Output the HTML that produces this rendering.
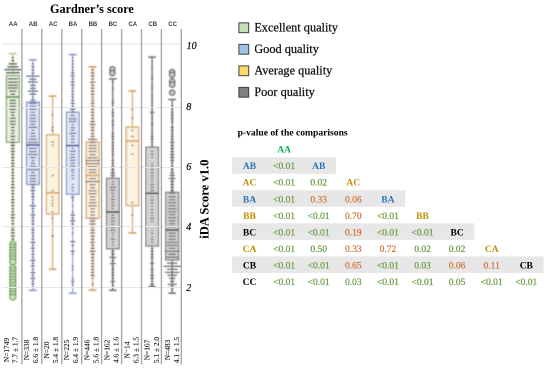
<!DOCTYPE html><html><head><meta charset="utf-8"><style>
html,body{margin:0;padding:0;background:#fff;}
body{width:550px;height:368px;overflow:hidden;position:relative;}
svg{position:absolute;left:0;top:0;transform:scale(0.5);transform-origin:0 0;will-change:transform;}
.serif{font-family:"Liberation Serif",serif;}
.sans{font-family:"Liberation Sans",sans-serif;}
.th{stroke-width:0.25px;}
</style></head><body>
<svg width="1100" height="736" viewBox="0 0 550 368">
<defs><filter id="bl" x="-5%" y="-5%" width="110%" height="110%"><feGaussianBlur stdDeviation="0.4"/></filter></defs>
<rect x="0" y="0" width="550" height="368" fill="#fff"/>
<g filter="url(#bl)">
<line x1="12.8" y1="53.7" x2="12.8" y2="241.0" stroke="#b5d19f" stroke-width="1.3"/>
<line x1="8.9" y1="53.7" x2="16.7" y2="53.7" stroke="#b5d19f" stroke-width="1.6"/>
<rect x="6.4" y="75.6" width="12.8" height="66.6" fill="#e6f0de" stroke="#8fb079" stroke-width="1.4"/>
<rect x="11.70" y="57.05" width="2.2" height="1.3" fill="#50574c"/>
<rect x="11.20" y="59.95" width="3.2" height="1.3" fill="#50574c"/>
<rect x="8.70" y="63.25" width="8.2" height="1.3" fill="#50574c"/>
<rect x="7.30" y="66.25" width="11.0" height="1.3" fill="#50574c"/>
<rect x="4.45" y="69.05" width="16.7" height="1.3" fill="#50574c"/>
<rect x="5.90" y="72.15" width="13.8" height="1.3" fill="#50574c"/>
<rect x="7.90" y="78.25" width="9.8" height="1.3" fill="#50574c"/>
<rect x="7.90" y="81.55" width="9.8" height="1.3" fill="#50574c"/>
<rect x="7.90" y="84.55" width="9.8" height="1.3" fill="#50574c"/>
<rect x="7.90" y="87.35" width="9.8" height="1.3" fill="#50574c"/>
<rect x="9.30" y="90.45" width="7.0" height="1.3" fill="#50574c"/>
<rect x="10.60" y="93.55" width="4.4" height="1.3" fill="#50574c"/>
<rect x="9.80" y="99.75" width="6.0" height="1.3" fill="#50574c"/>
<rect x="9.70" y="102.75" width="6.2" height="1.3" fill="#50574c"/>
<rect x="9.70" y="105.75" width="6.2" height="1.3" fill="#50574c"/>
<rect x="9.70" y="108.75" width="6.2" height="1.3" fill="#50574c"/>
<rect x="10.60" y="111.75" width="4.4" height="1.3" fill="#50574c"/>
<rect x="11.00" y="114.65" width="3.6" height="1.3" fill="#50574c"/>
<rect x="9.80" y="117.65" width="6.0" height="1.3" fill="#50574c"/>
<rect x="9.80" y="120.75" width="6.0" height="1.3" fill="#50574c"/>
<rect x="10.15" y="123.65" width="5.3" height="1.3" fill="#50574c"/>
<rect x="11.00" y="126.65" width="3.6" height="1.3" fill="#50574c"/>
<rect x="11.00" y="129.85" width="3.6" height="1.3" fill="#50574c"/>
<rect x="11.40" y="132.75" width="2.8" height="1.3" fill="#50574c"/>
<rect x="10.20" y="135.75" width="5.2" height="1.3" fill="#50574c"/>
<rect x="11.00" y="138.85" width="3.6" height="1.3" fill="#50574c"/>
<rect x="10.60" y="141.85" width="4.4" height="1.3" fill="#50574c"/>
<rect x="10.60" y="144.75" width="4.4" height="1.3" fill="#50574c"/>
<rect x="11.00" y="147.85" width="3.6" height="1.3" fill="#50574c"/>
<rect x="10.60" y="150.85" width="4.4" height="1.3" fill="#50574c"/>
<rect x="11.00" y="153.75" width="3.6" height="1.3" fill="#50574c"/>
<rect x="11.00" y="156.75" width="3.6" height="1.3" fill="#50574c"/>
<rect x="11.30" y="159.77" width="3.0" height="1.3" fill="#50574c"/>
<rect x="11.00" y="162.79" width="3.6" height="1.3" fill="#50574c"/>
<rect x="11.00" y="165.81" width="3.6" height="1.3" fill="#50574c"/>
<rect x="11.30" y="168.83" width="3.0" height="1.3" fill="#50574c"/>
<rect x="11.30" y="171.85" width="3.0" height="1.3" fill="#50574c"/>
<rect x="11.30" y="174.87" width="3.0" height="1.3" fill="#50574c"/>
<rect x="11.30" y="177.89" width="3.0" height="1.3" fill="#50574c"/>
<rect x="11.30" y="180.91" width="3.0" height="1.3" fill="#50574c"/>
<rect x="11.00" y="183.93" width="3.6" height="1.3" fill="#50574c"/>
<rect x="10.80" y="186.95" width="4.0" height="1.3" fill="#50574c"/>
<rect x="11.30" y="189.97" width="3.0" height="1.3" fill="#50574c"/>
<rect x="11.30" y="192.99" width="3.0" height="1.3" fill="#50574c"/>
<rect x="11.50" y="196.01" width="2.6" height="1.3" fill="#50574c"/>
<rect x="11.00" y="199.03" width="3.6" height="1.3" fill="#50574c"/>
<rect x="11.10" y="202.05" width="3.4" height="1.3" fill="#50574c"/>
<rect x="11.30" y="205.07" width="3.0" height="1.3" fill="#50574c"/>
<rect x="11.50" y="208.09" width="2.6" height="1.3" fill="#50574c"/>
<rect x="11.30" y="211.11" width="3.0" height="1.3" fill="#50574c"/>
<rect x="10.80" y="214.13" width="4.0" height="1.3" fill="#50574c"/>
<rect x="10.80" y="217.15" width="4.0" height="1.3" fill="#50574c"/>
<rect x="11.50" y="220.17" width="2.6" height="1.3" fill="#50574c"/>
<rect x="11.30" y="223.19" width="3.0" height="1.3" fill="#50574c"/>
<rect x="11.00" y="226.21" width="3.6" height="1.3" fill="#50574c"/>
<rect x="11.00" y="229.23" width="3.6" height="1.3" fill="#50574c"/>
<rect x="10.80" y="232.25" width="4.0" height="1.3" fill="#50574c"/>
<rect x="10.80" y="235.27" width="4.0" height="1.3" fill="#50574c"/>
<rect x="11.30" y="238.29" width="3.0" height="1.3" fill="#50574c"/>
<line x1="6.4" y1="97.0" x2="19.2" y2="97.0" stroke="#5d8c45" stroke-width="1.6"/>
<circle cx="12.8" cy="244.0" r="3.1" fill="#c6dfb3" stroke="#5f8c48" stroke-width="0.9"/>
<circle cx="12.8" cy="246.9" r="3.1" fill="#c6dfb3" stroke="#5f8c48" stroke-width="0.9"/>
<circle cx="12.8" cy="249.9" r="3.1" fill="#c6dfb3" stroke="#5f8c48" stroke-width="0.9"/>
<circle cx="12.8" cy="252.8" r="3.1" fill="#c6dfb3" stroke="#5f8c48" stroke-width="0.9"/>
<circle cx="12.8" cy="255.8" r="3.1" fill="#c6dfb3" stroke="#5f8c48" stroke-width="0.9"/>
<circle cx="12.8" cy="258.7" r="3.1" fill="#c6dfb3" stroke="#5f8c48" stroke-width="0.9"/>
<circle cx="12.8" cy="261.7" r="3.1" fill="#c6dfb3" stroke="#5f8c48" stroke-width="0.9"/>
<circle cx="12.8" cy="267.6" r="3.1" fill="#c6dfb3" stroke="#5f8c48" stroke-width="0.9"/>
<circle cx="12.8" cy="270.5" r="3.1" fill="#c6dfb3" stroke="#5f8c48" stroke-width="0.9"/>
<circle cx="12.8" cy="273.5" r="3.1" fill="#c6dfb3" stroke="#5f8c48" stroke-width="0.9"/>
<circle cx="12.8" cy="276.4" r="3.1" fill="#c6dfb3" stroke="#5f8c48" stroke-width="0.9"/>
<circle cx="12.8" cy="279.4" r="3.1" fill="#c6dfb3" stroke="#5f8c48" stroke-width="0.9"/>
<circle cx="12.8" cy="282.3" r="3.1" fill="#c6dfb3" stroke="#5f8c48" stroke-width="0.9"/>
<circle cx="12.8" cy="285.3" r="3.1" fill="#c6dfb3" stroke="#5f8c48" stroke-width="0.9"/>
<circle cx="12.8" cy="288.2" r="3.1" fill="#c6dfb3" stroke="#5f8c48" stroke-width="0.9"/>
<circle cx="12.8" cy="291.2" r="3.1" fill="#c6dfb3" stroke="#5f8c48" stroke-width="0.9"/>
<circle cx="12.8" cy="294.1" r="3.1" fill="#c6dfb3" stroke="#5f8c48" stroke-width="0.9"/>
<circle cx="12.8" cy="297.1" r="3.1" fill="#c6dfb3" stroke="#5f8c48" stroke-width="0.9"/>
</g>
<g filter="url(#bl)">
<line x1="32.9" y1="59.9" x2="32.9" y2="290.3" stroke="#8d9bcb" stroke-width="1.1"/>
<line x1="29.0" y1="59.9" x2="36.8" y2="59.9" stroke="#8d9bcb" stroke-width="1.6"/>
<line x1="29.0" y1="290.3" x2="36.8" y2="290.3" stroke="#8d9bcb" stroke-width="1.6"/>
<rect x="26.5" y="102.1" width="12.8" height="82.3" fill="#e0e6f4" stroke="#8f9dd0" stroke-width="1.4"/>
<rect x="31.90" y="63.05" width="2.0" height="1.3" fill="#6e7593"/>
<rect x="31.30" y="66.15" width="3.2" height="1.3" fill="#6e7593"/>
<rect x="31.30" y="69.45" width="3.2" height="1.3" fill="#6e7593"/>
<rect x="31.30" y="72.45" width="3.2" height="1.3" fill="#6e7593"/>
<rect x="26.20" y="75.45" width="13.4" height="1.3" fill="#6e7593"/>
<rect x="29.40" y="78.55" width="7.0" height="1.3" fill="#6e7593"/>
<rect x="28.00" y="81.35" width="9.8" height="1.3" fill="#6e7593"/>
<rect x="30.00" y="84.65" width="5.8" height="1.3" fill="#6e7593"/>
<rect x="29.90" y="87.65" width="6.0" height="1.3" fill="#6e7593"/>
<rect x="27.80" y="90.45" width="10.2" height="1.3" fill="#6e7593"/>
<rect x="29.50" y="93.45" width="6.8" height="1.3" fill="#6e7593"/>
<rect x="31.90" y="96.55" width="2.0" height="1.3" fill="#6e7593"/>
<rect x="30.40" y="99.45" width="5.0" height="1.3" fill="#6e7593"/>
<rect x="29.00" y="102.65" width="7.8" height="1.3" fill="#6e7593"/>
<rect x="29.90" y="105.75" width="6.0" height="1.3" fill="#6e7593"/>
<rect x="29.40" y="108.65" width="7.0" height="1.3" fill="#6e7593"/>
<rect x="30.90" y="111.75" width="4.0" height="1.3" fill="#6e7593"/>
<rect x="30.00" y="114.75" width="5.8" height="1.3" fill="#6e7593"/>
<rect x="29.60" y="117.75" width="6.6" height="1.3" fill="#6e7593"/>
<rect x="29.60" y="120.75" width="6.6" height="1.3" fill="#6e7593"/>
<rect x="30.40" y="123.75" width="5.0" height="1.3" fill="#6e7593"/>
<rect x="28.80" y="126.65" width="8.2" height="1.3" fill="#6e7593"/>
<rect x="31.40" y="129.65" width="3.0" height="1.3" fill="#6e7593"/>
<rect x="30.40" y="132.75" width="5.0" height="1.3" fill="#6e7593"/>
<rect x="30.00" y="135.65" width="5.8" height="1.3" fill="#6e7593"/>
<rect x="29.00" y="138.65" width="7.8" height="1.3" fill="#6e7593"/>
<rect x="28.00" y="141.75" width="9.8" height="1.3" fill="#6e7593"/>
<rect x="29.00" y="147.75" width="7.8" height="1.3" fill="#6e7593"/>
<rect x="29.40" y="150.95" width="7.0" height="1.3" fill="#6e7593"/>
<rect x="28.60" y="153.85" width="8.6" height="1.3" fill="#6e7593"/>
<rect x="30.00" y="156.95" width="5.8" height="1.3" fill="#6e7593"/>
<rect x="31.40" y="159.95" width="3.0" height="1.3" fill="#6e7593"/>
<rect x="30.70" y="162.75" width="4.4" height="1.3" fill="#6e7593"/>
<rect x="29.60" y="165.85" width="6.6" height="1.3" fill="#6e7593"/>
<rect x="27.80" y="169.05" width="10.2" height="1.3" fill="#6e7593"/>
<rect x="30.90" y="171.85" width="4.0" height="1.3" fill="#6e7593"/>
<rect x="29.60" y="174.95" width="6.6" height="1.3" fill="#6e7593"/>
<rect x="29.90" y="177.95" width="6.0" height="1.3" fill="#6e7593"/>
<rect x="29.90" y="180.85" width="6.0" height="1.3" fill="#6e7593"/>
<rect x="30.70" y="184.25" width="4.4" height="1.3" fill="#6e7593"/>
<rect x="30.90" y="186.95" width="4.0" height="1.3" fill="#6e7593"/>
<rect x="30.40" y="189.95" width="5.0" height="1.3" fill="#6e7593"/>
<rect x="31.15" y="193.15" width="3.5" height="1.3" fill="#6e7593"/>
<rect x="31.15" y="196.05" width="3.5" height="1.3" fill="#6e7593"/>
<rect x="31.65" y="198.95" width="2.5" height="1.3" fill="#6e7593"/>
<rect x="31.65" y="202.15" width="2.5" height="1.3" fill="#6e7593"/>
<rect x="29.65" y="205.15" width="6.5" height="1.3" fill="#6e7593"/>
<rect x="31.40" y="207.95" width="3.0" height="1.3" fill="#6e7593"/>
<rect x="31.65" y="211.15" width="2.5" height="1.3" fill="#6e7593"/>
<rect x="30.40" y="214.25" width="5.0" height="1.3" fill="#6e7593"/>
<rect x="31.40" y="217.15" width="3.0" height="1.3" fill="#6e7593"/>
<rect x="31.15" y="220.35" width="3.5" height="1.3" fill="#6e7593"/>
<rect x="31.40" y="223.35" width="3.0" height="1.3" fill="#6e7593"/>
<rect x="31.65" y="226.35" width="2.5" height="1.3" fill="#6e7593"/>
<rect x="31.15" y="229.35" width="3.5" height="1.3" fill="#6e7593"/>
<rect x="31.40" y="232.35" width="3.0" height="1.3" fill="#6e7593"/>
<rect x="31.65" y="235.35" width="2.5" height="1.3" fill="#6e7593"/>
<rect x="31.40" y="238.35" width="3.0" height="1.3" fill="#6e7593"/>
<rect x="30.40" y="241.75" width="5.0" height="1.3" fill="#6e7593"/>
<rect x="31.65" y="244.65" width="2.5" height="1.3" fill="#6e7593"/>
<rect x="30.90" y="247.55" width="4.0" height="1.3" fill="#6e7593"/>
<rect x="31.65" y="250.55" width="2.5" height="1.3" fill="#6e7593"/>
<rect x="31.40" y="253.55" width="3.0" height="1.3" fill="#6e7593"/>
<rect x="31.65" y="256.65" width="2.5" height="1.3" fill="#6e7593"/>
<rect x="30.40" y="259.75" width="5.0" height="1.3" fill="#6e7593"/>
<rect x="31.65" y="262.65" width="2.5" height="1.3" fill="#6e7593"/>
<rect x="30.90" y="265.45" width="4.0" height="1.3" fill="#6e7593"/>
<rect x="31.65" y="268.75" width="2.5" height="1.3" fill="#6e7593"/>
<rect x="30.40" y="272.05" width="5.0" height="1.3" fill="#6e7593"/>
<rect x="31.65" y="274.85" width="2.5" height="1.3" fill="#6e7593"/>
<rect x="30.40" y="277.75" width="5.0" height="1.3" fill="#6e7593"/>
<rect x="31.65" y="280.65" width="2.5" height="1.3" fill="#6e7593"/>
<rect x="31.40" y="283.35" width="3.0" height="1.3" fill="#6e7593"/>
<rect x="31.90" y="286.35" width="2.0" height="1.3" fill="#6e7593"/>
<line x1="26.5" y1="145.0" x2="39.3" y2="145.0" stroke="#3d5698" stroke-width="1.6"/>
</g>
<g filter="url(#bl)">
<line x1="52.6" y1="96.1" x2="52.6" y2="269.2" stroke="#e0b27a" stroke-width="1.4"/>
<line x1="48.7" y1="96.1" x2="56.5" y2="96.1" stroke="#d9a063" stroke-width="1.6"/>
<line x1="48.7" y1="269.2" x2="56.5" y2="269.2" stroke="#d9a063" stroke-width="1.6"/>
<rect x="46.2" y="134.8" width="12.8" height="79.2" fill="#fcf2e0" stroke="#ddb07c" stroke-width="1.4"/>
<rect x="51.60" y="114.45" width="2.0" height="1.3" fill="#857a6e"/>
<rect x="51.60" y="126.75" width="2.0" height="1.3" fill="#857a6e"/>
<rect x="51.35" y="129.75" width="2.5" height="1.3" fill="#857a6e"/>
<rect x="51.35" y="141.35" width="2.5" height="1.3" fill="#857a6e"/>
<rect x="51.60" y="144.55" width="2.0" height="1.3" fill="#857a6e"/>
<rect x="51.60" y="174.85" width="2.0" height="1.3" fill="#857a6e"/>
<rect x="51.60" y="189.95" width="2.0" height="1.3" fill="#857a6e"/>
<rect x="51.60" y="196.35" width="2.0" height="1.3" fill="#857a6e"/>
<rect x="51.60" y="199.45" width="2.0" height="1.3" fill="#857a6e"/>
<rect x="51.60" y="202.45" width="2.0" height="1.3" fill="#857a6e"/>
<rect x="51.60" y="205.15" width="2.0" height="1.3" fill="#857a6e"/>
<rect x="51.60" y="211.25" width="2.0" height="1.3" fill="#857a6e"/>
<rect x="51.60" y="217.65" width="2.0" height="1.3" fill="#857a6e"/>
<rect x="51.35" y="235.25" width="2.5" height="1.3" fill="#857a6e"/>
<line x1="46.2" y1="192.9" x2="59.0" y2="192.9" stroke="#dc9d58" stroke-width="1.6"/>
</g>
<g filter="url(#bl)">
<line x1="72.7" y1="54.6" x2="72.7" y2="293.2" stroke="#8d9bcb" stroke-width="1.1"/>
<line x1="68.8" y1="54.6" x2="76.6" y2="54.6" stroke="#8d9bcb" stroke-width="1.6"/>
<line x1="68.8" y1="293.2" x2="76.6" y2="293.2" stroke="#8d9bcb" stroke-width="1.6"/>
<rect x="66.3" y="112.2" width="12.8" height="82.0" fill="#e0e6f4" stroke="#8f9dd0" stroke-width="1.4"/>
<rect x="71.95" y="57.35" width="1.5" height="1.3" fill="#6e7593"/>
<rect x="71.70" y="60.35" width="2.0" height="1.3" fill="#6e7593"/>
<rect x="71.70" y="63.35" width="2.0" height="1.3" fill="#6e7593"/>
<rect x="71.70" y="66.35" width="2.0" height="1.3" fill="#6e7593"/>
<rect x="71.45" y="69.35" width="2.5" height="1.3" fill="#6e7593"/>
<rect x="70.95" y="72.35" width="3.5" height="1.3" fill="#6e7593"/>
<rect x="70.70" y="75.35" width="4.0" height="1.3" fill="#6e7593"/>
<rect x="71.45" y="78.35" width="2.5" height="1.3" fill="#6e7593"/>
<rect x="70.70" y="81.35" width="4.0" height="1.3" fill="#6e7593"/>
<rect x="70.95" y="84.35" width="3.5" height="1.3" fill="#6e7593"/>
<rect x="71.45" y="87.35" width="2.5" height="1.3" fill="#6e7593"/>
<rect x="71.45" y="90.55" width="2.5" height="1.3" fill="#6e7593"/>
<rect x="71.20" y="93.55" width="3.0" height="1.3" fill="#6e7593"/>
<rect x="71.45" y="96.65" width="2.5" height="1.3" fill="#6e7593"/>
<rect x="71.20" y="99.65" width="3.0" height="1.3" fill="#6e7593"/>
<rect x="70.70" y="102.65" width="4.0" height="1.3" fill="#6e7593"/>
<rect x="71.45" y="105.65" width="2.5" height="1.3" fill="#6e7593"/>
<rect x="69.85" y="108.65" width="5.7" height="1.3" fill="#6e7593"/>
<rect x="70.70" y="111.65" width="4.0" height="1.3" fill="#6e7593"/>
<rect x="70.70" y="114.85" width="4.0" height="1.3" fill="#6e7593"/>
<rect x="68.95" y="118.05" width="7.5" height="1.3" fill="#6e7593"/>
<rect x="68.95" y="120.85" width="7.5" height="1.3" fill="#6e7593"/>
<rect x="71.70" y="123.95" width="2.0" height="1.3" fill="#6e7593"/>
<rect x="70.45" y="126.95" width="4.5" height="1.3" fill="#6e7593"/>
<rect x="70.95" y="129.55" width="3.5" height="1.3" fill="#6e7593"/>
<rect x="69.45" y="132.65" width="6.5" height="1.3" fill="#6e7593"/>
<rect x="70.95" y="135.55" width="3.5" height="1.3" fill="#6e7593"/>
<rect x="70.70" y="138.65" width="4.0" height="1.3" fill="#6e7593"/>
<rect x="70.95" y="141.65" width="3.5" height="1.3" fill="#6e7593"/>
<rect x="71.70" y="147.65" width="2.0" height="1.3" fill="#6e7593"/>
<rect x="69.70" y="150.65" width="6.0" height="1.3" fill="#6e7593"/>
<rect x="70.70" y="153.75" width="4.0" height="1.3" fill="#6e7593"/>
<rect x="69.95" y="156.75" width="5.5" height="1.3" fill="#6e7593"/>
<rect x="69.95" y="159.75" width="5.5" height="1.3" fill="#6e7593"/>
<rect x="70.45" y="162.75" width="4.5" height="1.3" fill="#6e7593"/>
<rect x="69.95" y="165.75" width="5.5" height="1.3" fill="#6e7593"/>
<rect x="70.70" y="169.05" width="4.0" height="1.3" fill="#6e7593"/>
<rect x="71.45" y="171.65" width="2.5" height="1.3" fill="#6e7593"/>
<rect x="71.20" y="174.75" width="3.0" height="1.3" fill="#6e7593"/>
<rect x="71.45" y="177.75" width="2.5" height="1.3" fill="#6e7593"/>
<rect x="71.70" y="183.85" width="2.0" height="1.3" fill="#6e7593"/>
<rect x="71.20" y="186.95" width="3.0" height="1.3" fill="#6e7593"/>
<rect x="71.70" y="189.95" width="2.0" height="1.3" fill="#6e7593"/>
<rect x="70.95" y="196.55" width="3.5" height="1.3" fill="#6e7593"/>
<rect x="71.70" y="199.35" width="2.0" height="1.3" fill="#6e7593"/>
<rect x="71.95" y="205.35" width="1.5" height="1.3" fill="#6e7593"/>
<rect x="71.70" y="211.45" width="2.0" height="1.3" fill="#6e7593"/>
<rect x="70.45" y="214.35" width="4.5" height="1.3" fill="#6e7593"/>
<rect x="71.20" y="217.55" width="3.0" height="1.3" fill="#6e7593"/>
<rect x="70.20" y="220.35" width="5.0" height="1.3" fill="#6e7593"/>
<rect x="71.20" y="223.35" width="3.0" height="1.3" fill="#6e7593"/>
<rect x="71.70" y="226.55" width="2.0" height="1.3" fill="#6e7593"/>
<rect x="71.70" y="232.75" width="2.0" height="1.3" fill="#6e7593"/>
<rect x="70.20" y="240.95" width="5.0" height="1.3" fill="#6e7593"/>
<rect x="71.45" y="244.85" width="2.5" height="1.3" fill="#6e7593"/>
<rect x="70.70" y="250.55" width="4.0" height="1.3" fill="#6e7593"/>
<rect x="71.70" y="253.35" width="2.0" height="1.3" fill="#6e7593"/>
<rect x="71.70" y="265.85" width="2.0" height="1.3" fill="#6e7593"/>
<rect x="71.95" y="268.65" width="1.5" height="1.3" fill="#6e7593"/>
<rect x="71.70" y="277.85" width="2.0" height="1.3" fill="#6e7593"/>
<rect x="71.20" y="280.85" width="3.0" height="1.3" fill="#6e7593"/>
<rect x="71.70" y="283.85" width="2.0" height="1.3" fill="#6e7593"/>
<line x1="66.3" y1="145.6" x2="79.1" y2="145.6" stroke="#3d5698" stroke-width="1.6"/>
</g>
<g filter="url(#bl)">
<line x1="92.6" y1="66.8" x2="92.6" y2="290.2" stroke="#e0b27a" stroke-width="1.4"/>
<line x1="88.7" y1="66.8" x2="96.5" y2="66.8" stroke="#d9a063" stroke-width="1.6"/>
<line x1="88.7" y1="290.2" x2="96.5" y2="290.2" stroke="#d9a063" stroke-width="1.6"/>
<rect x="86.2" y="142.2" width="12.8" height="76.0" fill="#fcf2e0" stroke="#ddb07c" stroke-width="1.4"/>
<rect x="91.10" y="69.35" width="3.0" height="1.3" fill="#857a6e"/>
<rect x="90.60" y="72.35" width="4.0" height="1.3" fill="#857a6e"/>
<rect x="90.60" y="75.35" width="4.0" height="1.3" fill="#857a6e"/>
<rect x="91.10" y="78.35" width="3.0" height="1.3" fill="#857a6e"/>
<rect x="89.85" y="81.55" width="5.5" height="1.3" fill="#857a6e"/>
<rect x="90.85" y="84.55" width="3.5" height="1.3" fill="#857a6e"/>
<rect x="90.60" y="87.55" width="4.0" height="1.3" fill="#857a6e"/>
<rect x="90.60" y="90.55" width="4.0" height="1.3" fill="#857a6e"/>
<rect x="90.60" y="93.65" width="4.0" height="1.3" fill="#857a6e"/>
<rect x="91.35" y="96.65" width="2.5" height="1.3" fill="#857a6e"/>
<rect x="91.10" y="99.65" width="3.0" height="1.3" fill="#857a6e"/>
<rect x="90.60" y="102.65" width="4.0" height="1.3" fill="#857a6e"/>
<rect x="91.10" y="105.75" width="3.0" height="1.3" fill="#857a6e"/>
<rect x="90.85" y="108.75" width="3.5" height="1.3" fill="#857a6e"/>
<rect x="90.60" y="111.85" width="4.0" height="1.3" fill="#857a6e"/>
<rect x="90.85" y="114.85" width="3.5" height="1.3" fill="#857a6e"/>
<rect x="90.85" y="117.85" width="3.5" height="1.3" fill="#857a6e"/>
<rect x="90.10" y="120.85" width="5.0" height="1.3" fill="#857a6e"/>
<rect x="89.60" y="123.85" width="6.0" height="1.3" fill="#857a6e"/>
<rect x="90.60" y="126.85" width="4.0" height="1.3" fill="#857a6e"/>
<rect x="90.60" y="129.75" width="4.0" height="1.3" fill="#857a6e"/>
<rect x="91.10" y="132.85" width="3.0" height="1.3" fill="#857a6e"/>
<rect x="90.60" y="135.75" width="4.0" height="1.3" fill="#857a6e"/>
<rect x="88.10" y="138.75" width="9.0" height="1.3" fill="#857a6e"/>
<rect x="89.10" y="141.75" width="7.0" height="1.3" fill="#857a6e"/>
<rect x="88.60" y="144.85" width="8.0" height="1.3" fill="#857a6e"/>
<rect x="88.60" y="147.85" width="8.0" height="1.3" fill="#857a6e"/>
<rect x="88.60" y="150.85" width="8.0" height="1.3" fill="#857a6e"/>
<rect x="89.60" y="154.05" width="6.0" height="1.3" fill="#857a6e"/>
<rect x="87.60" y="157.15" width="10.0" height="1.3" fill="#857a6e"/>
<rect x="85.50" y="159.95" width="14.2" height="1.3" fill="#857a6e"/>
<rect x="86.10" y="162.95" width="13.0" height="1.3" fill="#857a6e"/>
<rect x="88.10" y="166.05" width="9.0" height="1.3" fill="#857a6e"/>
<rect x="88.60" y="169.05" width="8.0" height="1.3" fill="#857a6e"/>
<rect x="88.60" y="171.85" width="8.0" height="1.3" fill="#857a6e"/>
<rect x="89.10" y="177.95" width="7.0" height="1.3" fill="#857a6e"/>
<rect x="85.50" y="180.95" width="14.2" height="1.3" fill="#857a6e"/>
<rect x="89.60" y="184.15" width="6.0" height="1.3" fill="#857a6e"/>
<rect x="90.10" y="187.15" width="5.0" height="1.3" fill="#857a6e"/>
<rect x="88.60" y="190.15" width="8.0" height="1.3" fill="#857a6e"/>
<rect x="88.60" y="193.15" width="8.0" height="1.3" fill="#857a6e"/>
<rect x="89.85" y="196.15" width="5.5" height="1.3" fill="#857a6e"/>
<rect x="89.60" y="199.15" width="6.0" height="1.3" fill="#857a6e"/>
<rect x="88.85" y="202.05" width="7.5" height="1.3" fill="#857a6e"/>
<rect x="88.35" y="205.15" width="8.5" height="1.3" fill="#857a6e"/>
<rect x="90.35" y="208.15" width="4.5" height="1.3" fill="#857a6e"/>
<rect x="90.35" y="211.15" width="4.5" height="1.3" fill="#857a6e"/>
<rect x="90.35" y="214.35" width="4.5" height="1.3" fill="#857a6e"/>
<rect x="88.85" y="217.45" width="7.5" height="1.3" fill="#857a6e"/>
<rect x="89.60" y="220.35" width="6.0" height="1.3" fill="#857a6e"/>
<rect x="89.35" y="223.35" width="6.5" height="1.3" fill="#857a6e"/>
<rect x="90.60" y="226.35" width="4.0" height="1.3" fill="#857a6e"/>
<rect x="90.10" y="229.35" width="5.0" height="1.3" fill="#857a6e"/>
<rect x="90.10" y="232.35" width="5.0" height="1.3" fill="#857a6e"/>
<rect x="90.35" y="235.55" width="4.5" height="1.3" fill="#857a6e"/>
<rect x="90.60" y="238.55" width="4.0" height="1.3" fill="#857a6e"/>
<rect x="90.10" y="241.65" width="5.0" height="1.3" fill="#857a6e"/>
<rect x="90.85" y="244.65" width="3.5" height="1.3" fill="#857a6e"/>
<rect x="90.35" y="247.65" width="4.5" height="1.3" fill="#857a6e"/>
<rect x="89.60" y="250.65" width="6.0" height="1.3" fill="#857a6e"/>
<rect x="90.60" y="253.55" width="4.0" height="1.3" fill="#857a6e"/>
<rect x="90.85" y="256.75" width="3.5" height="1.3" fill="#857a6e"/>
<rect x="90.85" y="259.75" width="3.5" height="1.3" fill="#857a6e"/>
<rect x="90.85" y="262.85" width="3.5" height="1.3" fill="#857a6e"/>
<rect x="90.85" y="265.75" width="3.5" height="1.3" fill="#857a6e"/>
<rect x="90.85" y="268.75" width="3.5" height="1.3" fill="#857a6e"/>
<rect x="90.85" y="271.75" width="3.5" height="1.3" fill="#857a6e"/>
<rect x="90.35" y="274.75" width="4.5" height="1.3" fill="#857a6e"/>
<rect x="91.60" y="277.55" width="2.0" height="1.3" fill="#857a6e"/>
<rect x="91.60" y="283.35" width="2.0" height="1.3" fill="#857a6e"/>
<line x1="86.2" y1="175.5" x2="99.0" y2="175.5" stroke="#dc9d58" stroke-width="1.6"/>
</g>
<g filter="url(#bl)">
<line x1="112.8" y1="78.9" x2="112.8" y2="290.3" stroke="#777777" stroke-width="1.4"/>
<line x1="108.9" y1="78.9" x2="116.7" y2="78.9" stroke="#777777" stroke-width="1.6"/>
<line x1="108.9" y1="290.3" x2="116.7" y2="290.3" stroke="#777777" stroke-width="1.6"/>
<rect x="106.4" y="178.3" width="12.8" height="70.5" fill="#d3d3d3" stroke="#8a8a8a" stroke-width="1.4"/>
<rect x="111.80" y="81.45" width="2.0" height="1.3" fill="#727272"/>
<rect x="111.80" y="87.45" width="2.0" height="1.3" fill="#727272"/>
<rect x="111.80" y="99.65" width="2.0" height="1.3" fill="#727272"/>
<rect x="111.55" y="102.65" width="2.5" height="1.3" fill="#727272"/>
<rect x="111.55" y="111.85" width="2.5" height="1.3" fill="#727272"/>
<rect x="111.55" y="114.85" width="2.5" height="1.3" fill="#727272"/>
<rect x="111.55" y="120.55" width="2.5" height="1.3" fill="#727272"/>
<rect x="111.55" y="123.95" width="2.5" height="1.3" fill="#727272"/>
<rect x="111.55" y="132.75" width="2.5" height="1.3" fill="#727272"/>
<rect x="111.30" y="135.85" width="3.0" height="1.3" fill="#727272"/>
<rect x="111.55" y="138.75" width="2.5" height="1.3" fill="#727272"/>
<rect x="111.55" y="142.05" width="2.5" height="1.3" fill="#727272"/>
<rect x="111.55" y="144.85" width="2.5" height="1.3" fill="#727272"/>
<rect x="111.55" y="147.85" width="2.5" height="1.3" fill="#727272"/>
<rect x="111.55" y="150.85" width="2.5" height="1.3" fill="#727272"/>
<rect x="111.55" y="154.05" width="2.5" height="1.3" fill="#727272"/>
<rect x="111.55" y="159.95" width="2.5" height="1.3" fill="#727272"/>
<rect x="111.55" y="162.95" width="2.5" height="1.3" fill="#727272"/>
<rect x="111.05" y="166.05" width="3.5" height="1.3" fill="#727272"/>
<rect x="111.05" y="169.05" width="3.5" height="1.3" fill="#727272"/>
<rect x="110.55" y="172.05" width="4.5" height="1.3" fill="#727272"/>
<rect x="110.30" y="174.95" width="5.0" height="1.3" fill="#727272"/>
<rect x="111.80" y="180.85" width="2.0" height="1.3" fill="#727272"/>
<rect x="111.55" y="183.55" width="2.5" height="1.3" fill="#727272"/>
<rect x="109.80" y="186.65" width="6.0" height="1.3" fill="#727272"/>
<rect x="110.30" y="189.55" width="5.0" height="1.3" fill="#727272"/>
<rect x="111.30" y="192.75" width="3.0" height="1.3" fill="#727272"/>
<rect x="111.55" y="195.75" width="2.5" height="1.3" fill="#727272"/>
<rect x="110.80" y="198.85" width="4.0" height="1.3" fill="#727272"/>
<rect x="111.30" y="201.65" width="3.0" height="1.3" fill="#727272"/>
<rect x="111.05" y="204.65" width="3.5" height="1.3" fill="#727272"/>
<rect x="111.80" y="207.65" width="2.0" height="1.3" fill="#727272"/>
<rect x="111.30" y="214.55" width="3.0" height="1.3" fill="#727272"/>
<rect x="110.80" y="217.55" width="4.0" height="1.3" fill="#727272"/>
<rect x="110.80" y="220.55" width="4.0" height="1.3" fill="#727272"/>
<rect x="111.05" y="223.45" width="3.5" height="1.3" fill="#727272"/>
<rect x="110.80" y="226.55" width="4.0" height="1.3" fill="#727272"/>
<rect x="110.30" y="229.55" width="5.0" height="1.3" fill="#727272"/>
<rect x="111.80" y="232.55" width="2.0" height="1.3" fill="#727272"/>
<rect x="112.05" y="235.55" width="1.5" height="1.3" fill="#727272"/>
<rect x="110.80" y="238.55" width="4.0" height="1.3" fill="#727272"/>
<rect x="111.80" y="241.45" width="2.0" height="1.3" fill="#727272"/>
<rect x="111.80" y="244.65" width="2.0" height="1.3" fill="#727272"/>
<rect x="111.30" y="250.65" width="3.0" height="1.3" fill="#727272"/>
<rect x="111.05" y="253.55" width="3.5" height="1.3" fill="#727272"/>
<rect x="109.40" y="256.75" width="6.8" height="1.3" fill="#727272"/>
<rect x="111.30" y="259.75" width="3.0" height="1.3" fill="#727272"/>
<rect x="109.80" y="262.85" width="6.0" height="1.3" fill="#727272"/>
<rect x="111.55" y="265.75" width="2.5" height="1.3" fill="#727272"/>
<rect x="111.30" y="268.75" width="3.0" height="1.3" fill="#727272"/>
<rect x="111.30" y="271.75" width="3.0" height="1.3" fill="#727272"/>
<rect x="111.30" y="274.75" width="3.0" height="1.3" fill="#727272"/>
<rect x="111.55" y="277.75" width="2.5" height="1.3" fill="#727272"/>
<rect x="110.55" y="280.85" width="4.5" height="1.3" fill="#727272"/>
<rect x="111.80" y="283.85" width="2.0" height="1.3" fill="#727272"/>
<rect x="111.80" y="286.65" width="2.0" height="1.3" fill="#727272"/>
<line x1="106.4" y1="212.0" x2="119.2" y2="212.0" stroke="#444444" stroke-width="1.6"/>
<circle cx="112.4" cy="69.3" r="2.75" fill="#c4c4c4" stroke="#555555" stroke-width="1.0"/>
<circle cx="112.4" cy="73.1" r="2.75" fill="#c4c4c4" stroke="#555555" stroke-width="1.0"/>
</g>
<g filter="url(#bl)">
<line x1="132.4" y1="90.9" x2="132.4" y2="232.9" stroke="#e0b27a" stroke-width="1.4"/>
<line x1="128.5" y1="90.9" x2="136.3" y2="90.9" stroke="#d9a063" stroke-width="1.6"/>
<line x1="128.5" y1="232.9" x2="136.3" y2="232.9" stroke="#d9a063" stroke-width="1.6"/>
<rect x="126.0" y="127.0" width="12.8" height="78.6" fill="#fcf2e0" stroke="#ddb07c" stroke-width="1.4"/>
<rect x="131.40" y="108.55" width="2.0" height="1.3" fill="#857a6e"/>
<rect x="131.40" y="117.65" width="2.0" height="1.3" fill="#857a6e"/>
<rect x="131.40" y="129.75" width="2.0" height="1.3" fill="#857a6e"/>
<rect x="131.15" y="135.85" width="2.5" height="1.3" fill="#857a6e"/>
<rect x="131.40" y="144.75" width="2.0" height="1.3" fill="#857a6e"/>
<rect x="131.40" y="153.55" width="2.0" height="1.3" fill="#857a6e"/>
<rect x="131.40" y="202.15" width="2.0" height="1.3" fill="#857a6e"/>
<rect x="131.40" y="214.45" width="2.0" height="1.3" fill="#857a6e"/>
<line x1="126.0" y1="141.0" x2="138.8" y2="141.0" stroke="#dc9d58" stroke-width="1.6"/>
</g>
<g filter="url(#bl)">
<line x1="152.1" y1="57.1" x2="152.1" y2="286.8" stroke="#777777" stroke-width="1.4"/>
<line x1="148.2" y1="57.1" x2="156.0" y2="57.1" stroke="#777777" stroke-width="1.6"/>
<line x1="148.2" y1="286.8" x2="156.0" y2="286.8" stroke="#777777" stroke-width="1.6"/>
<rect x="145.7" y="147.2" width="12.8" height="98.8" fill="#d3d3d3" stroke="#8a8a8a" stroke-width="1.4"/>
<rect x="151.10" y="66.35" width="2.0" height="1.3" fill="#727272"/>
<rect x="151.10" y="75.65" width="2.0" height="1.3" fill="#727272"/>
<rect x="151.10" y="78.55" width="2.0" height="1.3" fill="#727272"/>
<rect x="151.10" y="84.65" width="2.0" height="1.3" fill="#727272"/>
<rect x="151.10" y="87.55" width="2.0" height="1.3" fill="#727272"/>
<rect x="151.10" y="93.75" width="2.0" height="1.3" fill="#727272"/>
<rect x="151.10" y="96.65" width="2.0" height="1.3" fill="#727272"/>
<rect x="151.10" y="99.75" width="2.0" height="1.3" fill="#727272"/>
<rect x="151.10" y="102.75" width="2.0" height="1.3" fill="#727272"/>
<rect x="151.10" y="105.55" width="2.0" height="1.3" fill="#727272"/>
<rect x="151.10" y="108.75" width="2.0" height="1.3" fill="#727272"/>
<rect x="149.85" y="111.75" width="4.5" height="1.3" fill="#727272"/>
<rect x="151.10" y="114.75" width="2.0" height="1.3" fill="#727272"/>
<rect x="151.10" y="117.75" width="2.0" height="1.3" fill="#727272"/>
<rect x="151.10" y="120.75" width="2.0" height="1.3" fill="#727272"/>
<rect x="150.60" y="123.75" width="3.0" height="1.3" fill="#727272"/>
<rect x="151.10" y="129.75" width="2.0" height="1.3" fill="#727272"/>
<rect x="151.10" y="132.75" width="2.0" height="1.3" fill="#727272"/>
<rect x="150.60" y="135.75" width="3.0" height="1.3" fill="#727272"/>
<rect x="150.60" y="138.75" width="3.0" height="1.3" fill="#727272"/>
<rect x="151.10" y="141.75" width="2.0" height="1.3" fill="#727272"/>
<rect x="151.10" y="144.85" width="2.0" height="1.3" fill="#727272"/>
<rect x="151.10" y="150.75" width="2.0" height="1.3" fill="#727272"/>
<rect x="150.60" y="153.85" width="3.0" height="1.3" fill="#727272"/>
<rect x="151.35" y="156.95" width="1.5" height="1.3" fill="#727272"/>
<rect x="151.35" y="162.95" width="1.5" height="1.3" fill="#727272"/>
<rect x="150.60" y="165.95" width="3.0" height="1.3" fill="#727272"/>
<rect x="150.60" y="169.05" width="3.0" height="1.3" fill="#727272"/>
<rect x="150.60" y="171.95" width="3.0" height="1.3" fill="#727272"/>
<rect x="150.60" y="175.05" width="3.0" height="1.3" fill="#727272"/>
<rect x="150.60" y="178.05" width="3.0" height="1.3" fill="#727272"/>
<rect x="151.10" y="180.95" width="2.0" height="1.3" fill="#727272"/>
<rect x="150.10" y="184.05" width="4.0" height="1.3" fill="#727272"/>
<rect x="150.60" y="187.05" width="3.0" height="1.3" fill="#727272"/>
<rect x="150.35" y="189.95" width="3.5" height="1.3" fill="#727272"/>
<rect x="151.10" y="196.35" width="2.0" height="1.3" fill="#727272"/>
<rect x="150.35" y="199.55" width="3.5" height="1.3" fill="#727272"/>
<rect x="150.85" y="202.65" width="2.5" height="1.3" fill="#727272"/>
<rect x="151.35" y="205.55" width="1.5" height="1.3" fill="#727272"/>
<rect x="150.85" y="208.75" width="2.5" height="1.3" fill="#727272"/>
<rect x="150.60" y="211.85" width="3.0" height="1.3" fill="#727272"/>
<rect x="151.35" y="214.85" width="1.5" height="1.3" fill="#727272"/>
<rect x="150.10" y="217.65" width="4.0" height="1.3" fill="#727272"/>
<rect x="151.10" y="220.75" width="2.0" height="1.3" fill="#727272"/>
<rect x="151.35" y="229.95" width="1.5" height="1.3" fill="#727272"/>
<rect x="151.10" y="232.75" width="2.0" height="1.3" fill="#727272"/>
<rect x="151.35" y="235.95" width="1.5" height="1.3" fill="#727272"/>
<rect x="150.60" y="238.95" width="3.0" height="1.3" fill="#727272"/>
<rect x="151.10" y="241.85" width="2.0" height="1.3" fill="#727272"/>
<rect x="151.10" y="248.15" width="2.0" height="1.3" fill="#727272"/>
<rect x="150.60" y="250.65" width="3.0" height="1.3" fill="#727272"/>
<rect x="150.60" y="253.85" width="3.0" height="1.3" fill="#727272"/>
<rect x="150.60" y="256.75" width="3.0" height="1.3" fill="#727272"/>
<rect x="151.10" y="259.75" width="2.0" height="1.3" fill="#727272"/>
<rect x="150.10" y="262.75" width="4.0" height="1.3" fill="#727272"/>
<rect x="151.10" y="265.75" width="2.0" height="1.3" fill="#727272"/>
<rect x="150.35" y="268.75" width="3.5" height="1.3" fill="#727272"/>
<rect x="150.85" y="271.75" width="2.5" height="1.3" fill="#727272"/>
<rect x="150.10" y="274.85" width="4.0" height="1.3" fill="#727272"/>
<rect x="150.35" y="277.85" width="3.5" height="1.3" fill="#727272"/>
<rect x="151.10" y="280.95" width="2.0" height="1.3" fill="#727272"/>
<rect x="150.10" y="283.95" width="4.0" height="1.3" fill="#727272"/>
<line x1="145.7" y1="193.3" x2="158.5" y2="193.3" stroke="#444444" stroke-width="1.6"/>
</g>
<g filter="url(#bl)">
<line x1="172.2" y1="99.5" x2="172.2" y2="293.2" stroke="#777777" stroke-width="1.4"/>
<line x1="168.3" y1="99.5" x2="176.1" y2="99.5" stroke="#777777" stroke-width="1.6"/>
<line x1="168.3" y1="293.2" x2="176.1" y2="293.2" stroke="#777777" stroke-width="1.6"/>
<rect x="165.8" y="192.4" width="12.8" height="67.6" fill="#d3d3d3" stroke="#8a8a8a" stroke-width="1.4"/>
<rect x="171.20" y="105.05" width="2.0" height="1.3" fill="#727272"/>
<rect x="170.95" y="108.75" width="2.5" height="1.3" fill="#727272"/>
<rect x="170.70" y="111.75" width="3.0" height="1.3" fill="#727272"/>
<rect x="170.70" y="114.75" width="3.0" height="1.3" fill="#727272"/>
<rect x="170.70" y="117.85" width="3.0" height="1.3" fill="#727272"/>
<rect x="170.95" y="120.85" width="2.5" height="1.3" fill="#727272"/>
<rect x="170.70" y="126.75" width="3.0" height="1.3" fill="#727272"/>
<rect x="170.70" y="129.85" width="3.0" height="1.3" fill="#727272"/>
<rect x="170.95" y="132.85" width="2.5" height="1.3" fill="#727272"/>
<rect x="170.70" y="135.75" width="3.0" height="1.3" fill="#727272"/>
<rect x="170.70" y="138.85" width="3.0" height="1.3" fill="#727272"/>
<rect x="169.95" y="141.75" width="4.5" height="1.3" fill="#727272"/>
<rect x="170.45" y="144.85" width="3.5" height="1.3" fill="#727272"/>
<rect x="170.20" y="147.85" width="4.0" height="1.3" fill="#727272"/>
<rect x="170.20" y="150.85" width="4.0" height="1.3" fill="#727272"/>
<rect x="169.95" y="153.85" width="4.5" height="1.3" fill="#727272"/>
<rect x="169.95" y="156.85" width="4.5" height="1.3" fill="#727272"/>
<rect x="170.20" y="159.95" width="4.0" height="1.3" fill="#727272"/>
<rect x="171.20" y="162.95" width="2.0" height="1.3" fill="#727272"/>
<rect x="170.95" y="165.95" width="2.5" height="1.3" fill="#727272"/>
<rect x="170.70" y="168.95" width="3.0" height="1.3" fill="#727272"/>
<rect x="170.20" y="171.95" width="4.0" height="1.3" fill="#727272"/>
<rect x="169.45" y="174.75" width="5.5" height="1.3" fill="#727272"/>
<rect x="168.80" y="177.85" width="6.8" height="1.3" fill="#727272"/>
<rect x="170.20" y="180.85" width="4.0" height="1.3" fill="#727272"/>
<rect x="170.20" y="183.85" width="4.0" height="1.3" fill="#727272"/>
<rect x="170.45" y="186.95" width="3.5" height="1.3" fill="#727272"/>
<rect x="170.20" y="189.95" width="4.0" height="1.3" fill="#727272"/>
<rect x="169.20" y="192.65" width="6.0" height="1.3" fill="#727272"/>
<rect x="168.40" y="196.15" width="7.6" height="1.3" fill="#727272"/>
<rect x="168.95" y="199.15" width="6.5" height="1.3" fill="#727272"/>
<rect x="167.75" y="201.95" width="8.9" height="1.3" fill="#727272"/>
<rect x="168.45" y="205.05" width="7.5" height="1.3" fill="#727272"/>
<rect x="167.95" y="208.15" width="8.5" height="1.3" fill="#727272"/>
<rect x="167.95" y="211.15" width="8.5" height="1.3" fill="#727272"/>
<rect x="168.95" y="213.95" width="6.5" height="1.3" fill="#727272"/>
<rect x="167.95" y="217.05" width="8.5" height="1.3" fill="#727272"/>
<rect x="168.70" y="220.25" width="7.0" height="1.3" fill="#727272"/>
<rect x="168.95" y="223.05" width="6.5" height="1.3" fill="#727272"/>
<rect x="167.95" y="225.95" width="8.5" height="1.3" fill="#727272"/>
<rect x="168.45" y="232.55" width="7.5" height="1.3" fill="#727272"/>
<rect x="168.45" y="235.55" width="7.5" height="1.3" fill="#727272"/>
<rect x="168.70" y="238.75" width="7.0" height="1.3" fill="#727272"/>
<rect x="167.05" y="241.75" width="10.3" height="1.3" fill="#727272"/>
<rect x="167.20" y="244.65" width="10.0" height="1.3" fill="#727272"/>
<rect x="168.95" y="247.65" width="6.5" height="1.3" fill="#727272"/>
<rect x="164.90" y="250.65" width="14.6" height="1.3" fill="#727272"/>
<rect x="168.45" y="253.65" width="7.5" height="1.3" fill="#727272"/>
<rect x="165.95" y="256.65" width="12.5" height="1.3" fill="#727272"/>
<rect x="166.95" y="262.55" width="10.5" height="1.3" fill="#727272"/>
<rect x="163.50" y="265.65" width="17.4" height="1.3" fill="#727272"/>
<rect x="166.95" y="268.65" width="10.5" height="1.3" fill="#727272"/>
<rect x="165.10" y="271.75" width="14.2" height="1.3" fill="#727272"/>
<rect x="167.45" y="274.65" width="9.5" height="1.3" fill="#727272"/>
<rect x="168.95" y="277.65" width="6.5" height="1.3" fill="#727272"/>
<rect x="169.95" y="280.75" width="4.5" height="1.3" fill="#727272"/>
<rect x="167.70" y="283.75" width="9.0" height="1.3" fill="#727272"/>
<rect x="169.70" y="286.65" width="5.0" height="1.3" fill="#727272"/>
<rect x="171.20" y="289.75" width="2.0" height="1.3" fill="#727272"/>
<line x1="165.8" y1="230.0" x2="178.6" y2="230.0" stroke="#444444" stroke-width="1.6"/>
<circle cx="172.2" cy="72.0" r="2.75" fill="#c4c4c4" stroke="#555555" stroke-width="1.0"/>
<circle cx="172.2" cy="74.8" r="2.75" fill="#c4c4c4" stroke="#555555" stroke-width="1.0"/>
<circle cx="172.2" cy="81.5" r="2.75" fill="#c4c4c4" stroke="#555555" stroke-width="1.0"/>
<circle cx="172.2" cy="84.6" r="2.75" fill="#c4c4c4" stroke="#555555" stroke-width="1.0"/>
<circle cx="172.2" cy="92.6" r="2.75" fill="#c4c4c4" stroke="#555555" stroke-width="1.0"/>
</g>
<line x1="2" y1="44.1" x2="181" y2="44.1" stroke="#e6e6e6" stroke-width="1"/>
<line x1="2" y1="107.5" x2="181" y2="107.5" stroke="#e6e6e6" stroke-width="1"/>
<line x1="2" y1="167.5" x2="181" y2="167.5" stroke="#e6e6e6" stroke-width="1"/>
<line x1="2" y1="226.5" x2="181" y2="226.5" stroke="#e6e6e6" stroke-width="1"/>
<line x1="2" y1="287.5" x2="181" y2="287.5" stroke="#e6e6e6" stroke-width="1"/>
<line x1="21.9" y1="29" x2="21.9" y2="364.4" stroke="#a8a8a8" stroke-width="1.4"/>
<line x1="41.8" y1="29" x2="41.8" y2="364.4" stroke="#a8a8a8" stroke-width="1.4"/>
<line x1="61.8" y1="29" x2="61.8" y2="364.4" stroke="#a8a8a8" stroke-width="1.4"/>
<line x1="81.7" y1="29" x2="81.7" y2="364.4" stroke="#a8a8a8" stroke-width="1.4"/>
<line x1="101.6" y1="29" x2="101.6" y2="364.4" stroke="#a8a8a8" stroke-width="1.4"/>
<line x1="121.6" y1="29" x2="121.6" y2="364.4" stroke="#a8a8a8" stroke-width="1.4"/>
<line x1="141.5" y1="29" x2="141.5" y2="364.4" stroke="#a8a8a8" stroke-width="1.4"/>
<line x1="161.4" y1="29" x2="161.4" y2="364.4" stroke="#a8a8a8" stroke-width="1.4"/>
<line x1="181.3" y1="29" x2="181.3" y2="364.4" stroke="#a8a8a8" stroke-width="1.4"/>
<rect x="238.9" y="22.9" width="9.8" height="9.8" fill="#c5e0b4" stroke="#404040" stroke-width="1"/>
<rect x="238.9" y="44.4" width="9.8" height="9.8" fill="#9dc3e6" stroke="#404040" stroke-width="1"/>
<rect x="238.9" y="65.9" width="9.8" height="9.8" fill="#ffd966" stroke="#404040" stroke-width="1"/>
<rect x="238.9" y="87.4" width="9.8" height="9.8" fill="#7f7f7f" stroke="#404040" stroke-width="1"/>
<rect x="232.2" y="157.20" width="103.8" height="16.53" fill="#e7e7e7"/>
<rect x="232.2" y="190.26" width="173.0" height="16.53" fill="#e7e7e7"/>
<rect x="232.2" y="223.32" width="242.2" height="16.53" fill="#e7e7e7"/>
<rect x="232.2" y="256.38" width="311.4" height="16.53" fill="#e7e7e7"/>
<text x="13.2" y="26.1" font-size="6" font-weight="bold" text-anchor="middle" class="sans" fill="#3a3a3a">AA</text>
<text x="33.1" y="26.1" font-size="6" font-weight="bold" text-anchor="middle" class="sans" fill="#3a3a3a">AB</text>
<text x="53.1" y="26.1" font-size="6" font-weight="bold" text-anchor="middle" class="sans" fill="#3a3a3a">AC</text>
<text x="73.0" y="26.1" font-size="6" font-weight="bold" text-anchor="middle" class="sans" fill="#3a3a3a">BA</text>
<text x="92.9" y="26.1" font-size="6" font-weight="bold" text-anchor="middle" class="sans" fill="#3a3a3a">BB</text>
<text x="112.9" y="26.1" font-size="6" font-weight="bold" text-anchor="middle" class="sans" fill="#3a3a3a">BC</text>
<text x="132.8" y="26.1" font-size="6" font-weight="bold" text-anchor="middle" class="sans" fill="#3a3a3a">CA</text>
<text x="152.7" y="26.1" font-size="6" font-weight="bold" text-anchor="middle" class="sans" fill="#3a3a3a">CB</text>
<text x="172.6" y="26.1" font-size="6" font-weight="bold" text-anchor="middle" class="sans" fill="#3a3a3a">CC</text>
<text x="50" y="12.8" font-size="12.2" font-weight="bold" class="serif" fill="#000">Gardner’s score</text>
<text x="186.6" y="49.2" font-size="10" font-style="italic" class="serif th" fill="#111" stroke="#111">10</text>
<text x="186.2" y="109.9" font-size="10" font-style="italic" class="serif th" fill="#111" stroke="#111">8</text>
<text x="186.2" y="169.9" font-size="10" font-style="italic" class="serif th" fill="#111" stroke="#111">6</text>
<text x="186.2" y="230.0" font-size="10" font-style="italic" class="serif th" fill="#111" stroke="#111">4</text>
<text x="186.2" y="291.1" font-size="10" font-style="italic" class="serif th" fill="#111" stroke="#111">2</text>
<text transform="translate(208.7,238.8) rotate(-90)" font-size="12.6" font-weight="bold" class="serif" fill="#000">iDA Score v1.0</text>
<text transform="translate(8.8,350) rotate(-90)" font-size="7.4" text-anchor="middle" class="serif" fill="#1a1a1a" stroke="#1a1a1a" stroke-width="0.12">N=1749</text>
<text transform="translate(17.6,350) rotate(-90)" font-size="7.4" text-anchor="middle" class="serif" fill="#1a1a1a" stroke="#1a1a1a" stroke-width="0.12">7.7 ± 1.7</text>
<text transform="translate(28.9,350) rotate(-90)" font-size="7.4" text-anchor="middle" class="serif" fill="#1a1a1a" stroke="#1a1a1a" stroke-width="0.12">N=338</text>
<text transform="translate(37.8,350) rotate(-90)" font-size="7.4" text-anchor="middle" class="serif" fill="#1a1a1a" stroke="#1a1a1a" stroke-width="0.12">6.6 ± 1.8</text>
<text transform="translate(49.0,350) rotate(-90)" font-size="7.4" text-anchor="middle" class="serif" fill="#1a1a1a" stroke="#1a1a1a" stroke-width="0.12">N=20</text>
<text transform="translate(58.0,350) rotate(-90)" font-size="7.4" text-anchor="middle" class="serif" fill="#1a1a1a" stroke="#1a1a1a" stroke-width="0.12">5.4 ± 1.8</text>
<text transform="translate(69.2,350) rotate(-90)" font-size="7.4" text-anchor="middle" class="serif" fill="#1a1a1a" stroke="#1a1a1a" stroke-width="0.12">N=225</text>
<text transform="translate(78.2,350) rotate(-90)" font-size="7.4" text-anchor="middle" class="serif" fill="#1a1a1a" stroke="#1a1a1a" stroke-width="0.12">6.4 ± 1.9</text>
<text transform="translate(89.3,350) rotate(-90)" font-size="7.4" text-anchor="middle" class="serif" fill="#1a1a1a" stroke="#1a1a1a" stroke-width="0.12">N=446</text>
<text transform="translate(98.4,350) rotate(-90)" font-size="7.4" text-anchor="middle" class="serif" fill="#1a1a1a" stroke="#1a1a1a" stroke-width="0.12">5.6 ± 1.8</text>
<text transform="translate(109.4,350) rotate(-90)" font-size="7.4" text-anchor="middle" class="serif" fill="#1a1a1a" stroke="#1a1a1a" stroke-width="0.12">N=162</text>
<text transform="translate(118.6,350) rotate(-90)" font-size="7.4" text-anchor="middle" class="serif" fill="#1a1a1a" stroke="#1a1a1a" stroke-width="0.12">4.6 ± 1.6</text>
<text transform="translate(129.6,350) rotate(-90)" font-size="7.4" text-anchor="middle" class="serif" fill="#1a1a1a" stroke="#1a1a1a" stroke-width="0.12">N=14</text>
<text transform="translate(138.7,350) rotate(-90)" font-size="7.4" text-anchor="middle" class="serif" fill="#1a1a1a" stroke="#1a1a1a" stroke-width="0.12">6.3 ± 1.5</text>
<text transform="translate(149.7,350) rotate(-90)" font-size="7.4" text-anchor="middle" class="serif" fill="#1a1a1a" stroke="#1a1a1a" stroke-width="0.12">N=167</text>
<text transform="translate(158.9,350) rotate(-90)" font-size="7.4" text-anchor="middle" class="serif" fill="#1a1a1a" stroke="#1a1a1a" stroke-width="0.12">5.1 ± 2.0</text>
<text transform="translate(169.8,350) rotate(-90)" font-size="7.4" text-anchor="middle" class="serif" fill="#1a1a1a" stroke="#1a1a1a" stroke-width="0.12">N=483</text>
<text transform="translate(179.1,350) rotate(-90)" font-size="7.4" text-anchor="middle" class="serif" fill="#1a1a1a" stroke="#1a1a1a" stroke-width="0.12">4.1 ± 1.5</text>
<text x="254.3" y="31.6" font-size="12.3" class="serif th" fill="#111" stroke="#111">Excellent quality</text>
<text x="254.3" y="53.1" font-size="12.3" class="serif th" fill="#111" stroke="#111">Good quality</text>
<text x="254.3" y="74.6" font-size="12.3" class="serif th" fill="#111" stroke="#111">Average quality</text>
<text x="254.3" y="96.1" font-size="12.3" class="serif th" fill="#111" stroke="#111">Poor quality</text>
<text x="237.6" y="135.7" font-size="9.6" font-weight="bold" class="serif" fill="#000">p-value of the comparisons</text>
<text x="284.1" y="152.7" font-size="9.5" font-weight="bold" text-anchor="middle" class="serif" fill="#00b050">AA</text>
<text x="249.5" y="169.2" font-size="9.5" font-weight="bold" text-anchor="middle" class="serif" fill="#2e75b6">AB</text>
<text x="284.1" y="169.2" font-size="9.5" text-anchor="middle" class="serif th" fill="#6f9f49" stroke="#6f9f49">&lt;0.01</text>
<text x="318.7" y="169.2" font-size="9.5" font-weight="bold" text-anchor="middle" class="serif" fill="#2e75b6">AB</text>
<text x="249.5" y="185.7" font-size="9.5" font-weight="bold" text-anchor="middle" class="serif" fill="#c09000">AC</text>
<text x="284.1" y="185.7" font-size="9.5" text-anchor="middle" class="serif th" fill="#6f9f49" stroke="#6f9f49">&lt;0.01</text>
<text x="318.7" y="185.7" font-size="9.5" text-anchor="middle" class="serif th" fill="#6f9f49" stroke="#6f9f49">0.02</text>
<text x="353.3" y="185.7" font-size="9.5" font-weight="bold" text-anchor="middle" class="serif" fill="#c09000">AC</text>
<text x="249.5" y="202.3" font-size="9.5" font-weight="bold" text-anchor="middle" class="serif" fill="#2e75b6">BA</text>
<text x="284.1" y="202.3" font-size="9.5" text-anchor="middle" class="serif th" fill="#6f9f49" stroke="#6f9f49">&lt;0.01</text>
<text x="318.7" y="202.3" font-size="9.5" text-anchor="middle" class="serif th" fill="#d2773f" stroke="#d2773f">0.33</text>
<text x="353.3" y="202.3" font-size="9.5" text-anchor="middle" class="serif th" fill="#d2773f" stroke="#d2773f">0.06</text>
<text x="387.9" y="202.3" font-size="9.5" font-weight="bold" text-anchor="middle" class="serif" fill="#2e75b6">BA</text>
<text x="249.5" y="218.8" font-size="9.5" font-weight="bold" text-anchor="middle" class="serif" fill="#c09000">BB</text>
<text x="284.1" y="218.8" font-size="9.5" text-anchor="middle" class="serif th" fill="#6f9f49" stroke="#6f9f49">&lt;0.01</text>
<text x="318.7" y="218.8" font-size="9.5" text-anchor="middle" class="serif th" fill="#6f9f49" stroke="#6f9f49">&lt;0.01</text>
<text x="353.3" y="218.8" font-size="9.5" text-anchor="middle" class="serif th" fill="#d2773f" stroke="#d2773f">0.70</text>
<text x="387.9" y="218.8" font-size="9.5" text-anchor="middle" class="serif th" fill="#6f9f49" stroke="#6f9f49">&lt;0.01</text>
<text x="422.5" y="218.8" font-size="9.5" font-weight="bold" text-anchor="middle" class="serif" fill="#c09000">BB</text>
<text x="249.5" y="235.3" font-size="9.5" font-weight="bold" text-anchor="middle" class="serif" fill="#000">BC</text>
<text x="284.1" y="235.3" font-size="9.5" text-anchor="middle" class="serif th" fill="#6f9f49" stroke="#6f9f49">&lt;0.01</text>
<text x="318.7" y="235.3" font-size="9.5" text-anchor="middle" class="serif th" fill="#6f9f49" stroke="#6f9f49">&lt;0.01</text>
<text x="353.3" y="235.3" font-size="9.5" text-anchor="middle" class="serif th" fill="#d2773f" stroke="#d2773f">0.19</text>
<text x="387.9" y="235.3" font-size="9.5" text-anchor="middle" class="serif th" fill="#6f9f49" stroke="#6f9f49">&lt;0.01</text>
<text x="422.5" y="235.3" font-size="9.5" text-anchor="middle" class="serif th" fill="#6f9f49" stroke="#6f9f49">&lt;0.01</text>
<text x="457.1" y="235.3" font-size="9.5" font-weight="bold" text-anchor="middle" class="serif" fill="#000">BC</text>
<text x="249.5" y="251.8" font-size="9.5" font-weight="bold" text-anchor="middle" class="serif" fill="#c09000">CA</text>
<text x="284.1" y="251.8" font-size="9.5" text-anchor="middle" class="serif th" fill="#6f9f49" stroke="#6f9f49">&lt;0.01</text>
<text x="318.7" y="251.8" font-size="9.5" text-anchor="middle" class="serif th" fill="#6f9f49" stroke="#6f9f49">0.50</text>
<text x="353.3" y="251.8" font-size="9.5" text-anchor="middle" class="serif th" fill="#d2773f" stroke="#d2773f">0.33</text>
<text x="387.9" y="251.8" font-size="9.5" text-anchor="middle" class="serif th" fill="#d2773f" stroke="#d2773f">0.72</text>
<text x="422.5" y="251.8" font-size="9.5" text-anchor="middle" class="serif th" fill="#6f9f49" stroke="#6f9f49">0.02</text>
<text x="457.1" y="251.8" font-size="9.5" text-anchor="middle" class="serif th" fill="#6f9f49" stroke="#6f9f49">0.02</text>
<text x="491.7" y="251.8" font-size="9.5" font-weight="bold" text-anchor="middle" class="serif" fill="#c09000">CA</text>
<text x="249.5" y="268.4" font-size="9.5" font-weight="bold" text-anchor="middle" class="serif" fill="#000">CB</text>
<text x="284.1" y="268.4" font-size="9.5" text-anchor="middle" class="serif th" fill="#6f9f49" stroke="#6f9f49">&lt;0.01</text>
<text x="318.7" y="268.4" font-size="9.5" text-anchor="middle" class="serif th" fill="#6f9f49" stroke="#6f9f49">&lt;0.01</text>
<text x="353.3" y="268.4" font-size="9.5" text-anchor="middle" class="serif th" fill="#d2773f" stroke="#d2773f">0.65</text>
<text x="387.9" y="268.4" font-size="9.5" text-anchor="middle" class="serif th" fill="#6f9f49" stroke="#6f9f49">&lt;0.01</text>
<text x="422.5" y="268.4" font-size="9.5" text-anchor="middle" class="serif th" fill="#6f9f49" stroke="#6f9f49">0.03</text>
<text x="457.1" y="268.4" font-size="9.5" text-anchor="middle" class="serif th" fill="#d2773f" stroke="#d2773f">0.06</text>
<text x="491.7" y="268.4" font-size="9.5" text-anchor="middle" class="serif th" fill="#d2773f" stroke="#d2773f">0.11</text>
<text x="526.3" y="268.4" font-size="9.5" font-weight="bold" text-anchor="middle" class="serif" fill="#000">CB</text>
<text x="249.5" y="284.9" font-size="9.5" font-weight="bold" text-anchor="middle" class="serif" fill="#000">CC</text>
<text x="284.1" y="284.9" font-size="9.5" text-anchor="middle" class="serif th" fill="#6f9f49" stroke="#6f9f49">&lt;0.01</text>
<text x="318.7" y="284.9" font-size="9.5" text-anchor="middle" class="serif th" fill="#6f9f49" stroke="#6f9f49">&lt;0.01</text>
<text x="353.3" y="284.9" font-size="9.5" text-anchor="middle" class="serif th" fill="#6f9f49" stroke="#6f9f49">0.03</text>
<text x="387.9" y="284.9" font-size="9.5" text-anchor="middle" class="serif th" fill="#6f9f49" stroke="#6f9f49">&lt;0.01</text>
<text x="422.5" y="284.9" font-size="9.5" text-anchor="middle" class="serif th" fill="#6f9f49" stroke="#6f9f49">&lt;0.01</text>
<text x="457.1" y="284.9" font-size="9.5" text-anchor="middle" class="serif th" fill="#6f9f49" stroke="#6f9f49">0.05</text>
<text x="491.7" y="284.9" font-size="9.5" text-anchor="middle" class="serif th" fill="#6f9f49" stroke="#6f9f49">&lt;0.01</text>
<text x="526.3" y="284.9" font-size="9.5" text-anchor="middle" class="serif th" fill="#6f9f49" stroke="#6f9f49">&lt;0.01</text>
</svg></body></html>
